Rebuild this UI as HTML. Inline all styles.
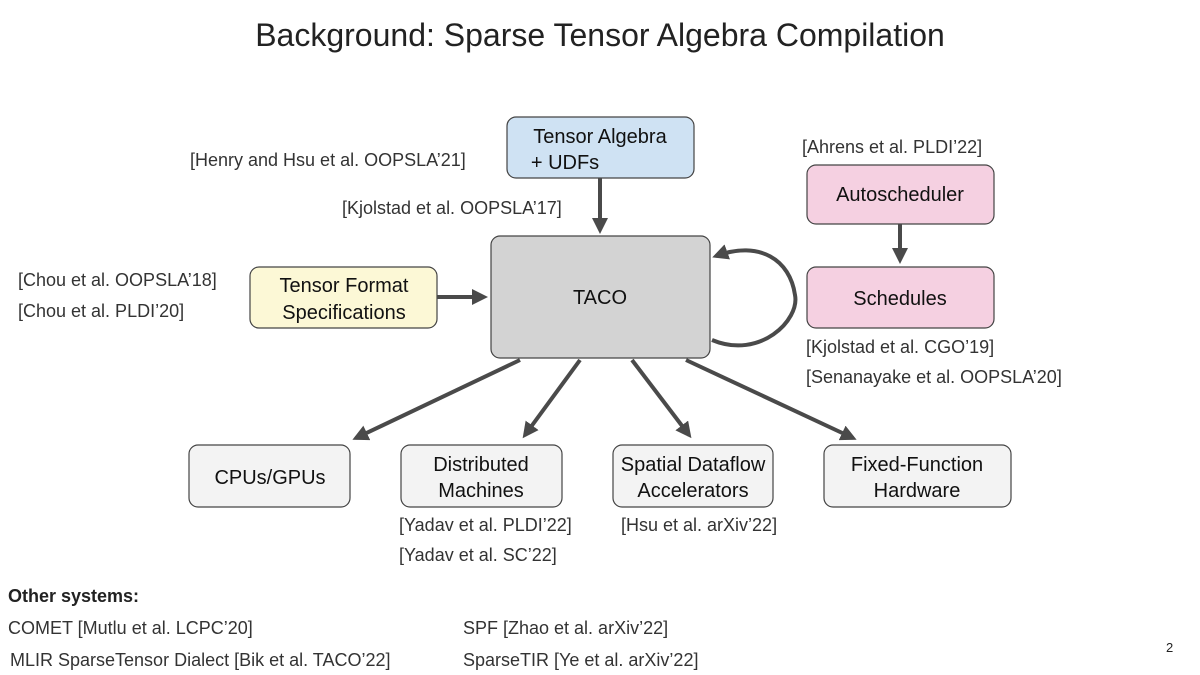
<!DOCTYPE html>
<html><head><meta charset="utf-8"><style>
body{margin:0;background:#fff}
svg{display:block}
text{font-family:"Liberation Sans",sans-serif;fill:#222}
.l{font-size:18px;fill:#333}
.b{font-size:20px;text-anchor:middle;fill:#111}
</style></head><body>
<svg width="1200" height="675" viewBox="0 0 1200 675">
<defs><marker id="a" markerWidth="4" markerHeight="4" refX="3" refY="2" orient="auto" markerUnits="strokeWidth"><path d="M0,0 L4,2 L0,4 z" fill="#4a4a4a"/></marker></defs>
<text x="600" y="46" font-size="32" text-anchor="middle" fill="#111">Background: Sparse Tensor Algebra Compilation</text>

<rect x="507" y="117" width="187" height="61" rx="9" fill="#cfe2f3" stroke="#444" stroke-width="1.2"/>
<text class="b" x="600" y="143">Tensor Algebra</text>
<text class="b" x="565" y="169">+ UDFs</text>

<rect x="491" y="236" width="219" height="122" rx="9" fill="#d3d3d3" stroke="#444" stroke-width="1.2"/>
<text class="b" x="600" y="304">TACO</text>

<rect x="250" y="267" width="187" height="61" rx="9" fill="#fcf8d6" stroke="#444" stroke-width="1.2"/>
<text class="b" x="344" y="292">Tensor Format</text>
<text class="b" x="344" y="319">Specifications</text>

<rect x="807" y="165" width="187" height="59" rx="9" fill="#f5d0e1" stroke="#444" stroke-width="1.2"/>
<text class="b" x="900" y="201">Autoscheduler</text>
<rect x="807" y="267" width="187" height="61" rx="9" fill="#f5d0e1" stroke="#444" stroke-width="1.2"/>
<text class="b" x="900" y="305">Schedules</text>

<g fill="#f3f3f3" stroke="#444" stroke-width="1.2">
<rect x="189" y="445" width="161" height="62" rx="9"/>
<rect x="401" y="445" width="161" height="62" rx="9"/>
<rect x="613" y="445" width="160" height="62" rx="9"/>
<rect x="824" y="445" width="187" height="62" rx="9"/>
</g>
<text class="b" x="270" y="484">CPUs/GPUs</text>
<text class="b" x="481" y="471">Distributed</text>
<text class="b" x="481" y="497">Machines</text>
<text class="b" x="693" y="471">Spatial Dataflow</text>
<text class="b" x="693" y="497">Accelerators</text>
<text class="b" x="917" y="471">Fixed-Function</text>
<text class="b" x="917" y="497">Hardware</text>

<g stroke="#4a4a4a" stroke-width="4" fill="none" marker-end="url(#a)">
<line x1="600" y1="178" x2="600" y2="230"/>
<line x1="437" y1="297" x2="484" y2="297"/>
<line x1="900" y1="224" x2="900" y2="260"/>
<path d="M712,340 C760,360 800,320 795,295 C790,260 760,240 716,256"/>
<line x1="520" y1="360" x2="356" y2="438"/>
<line x1="580" y1="360" x2="525" y2="435"/>
<line x1="632" y1="360" x2="689" y2="435"/>
<line x1="686" y1="360" x2="853" y2="438"/>
</g>

<text class="l" x="190" y="166">[Henry and Hsu et al. OOPSLA’21]</text>
<text class="l" x="342" y="214">[Kjolstad et al. OOPSLA’17]</text>
<text class="l" x="18" y="286">[Chou et al. OOPSLA’18]</text>
<text class="l" x="18" y="317">[Chou et al. PLDI’20]</text>
<text class="l" x="802" y="153">[Ahrens et al. PLDI’22]</text>
<text class="l" x="806" y="353">[Kjolstad et al. CGO’19]</text>
<text class="l" x="806" y="383">[Senanayake et al. OOPSLA’20]</text>
<text class="l" x="399" y="531">[Yadav et al. PLDI’22]</text>
<text class="l" x="399" y="561">[Yadav et al. SC’22]</text>
<text class="l" x="621" y="531">[Hsu et al. arXiv’22]</text>

<text x="8" y="602" font-size="18" font-weight="bold" fill="#111">Other systems:</text>
<text class="l" x="8" y="634" fill="#222">COMET [Mutlu et al. LCPC’20]</text>
<text class="l" x="10" y="666">MLIR SparseTensor Dialect [Bik et al. TACO’22]</text>
<text class="l" x="463" y="634">SPF [Zhao et al. arXiv’22]</text>
<text class="l" x="463" y="666">SparseTIR [Ye et al. arXiv’22]</text>
<text x="1166" y="652" font-size="13" fill="#444">2</text>
</svg>
</body></html>
